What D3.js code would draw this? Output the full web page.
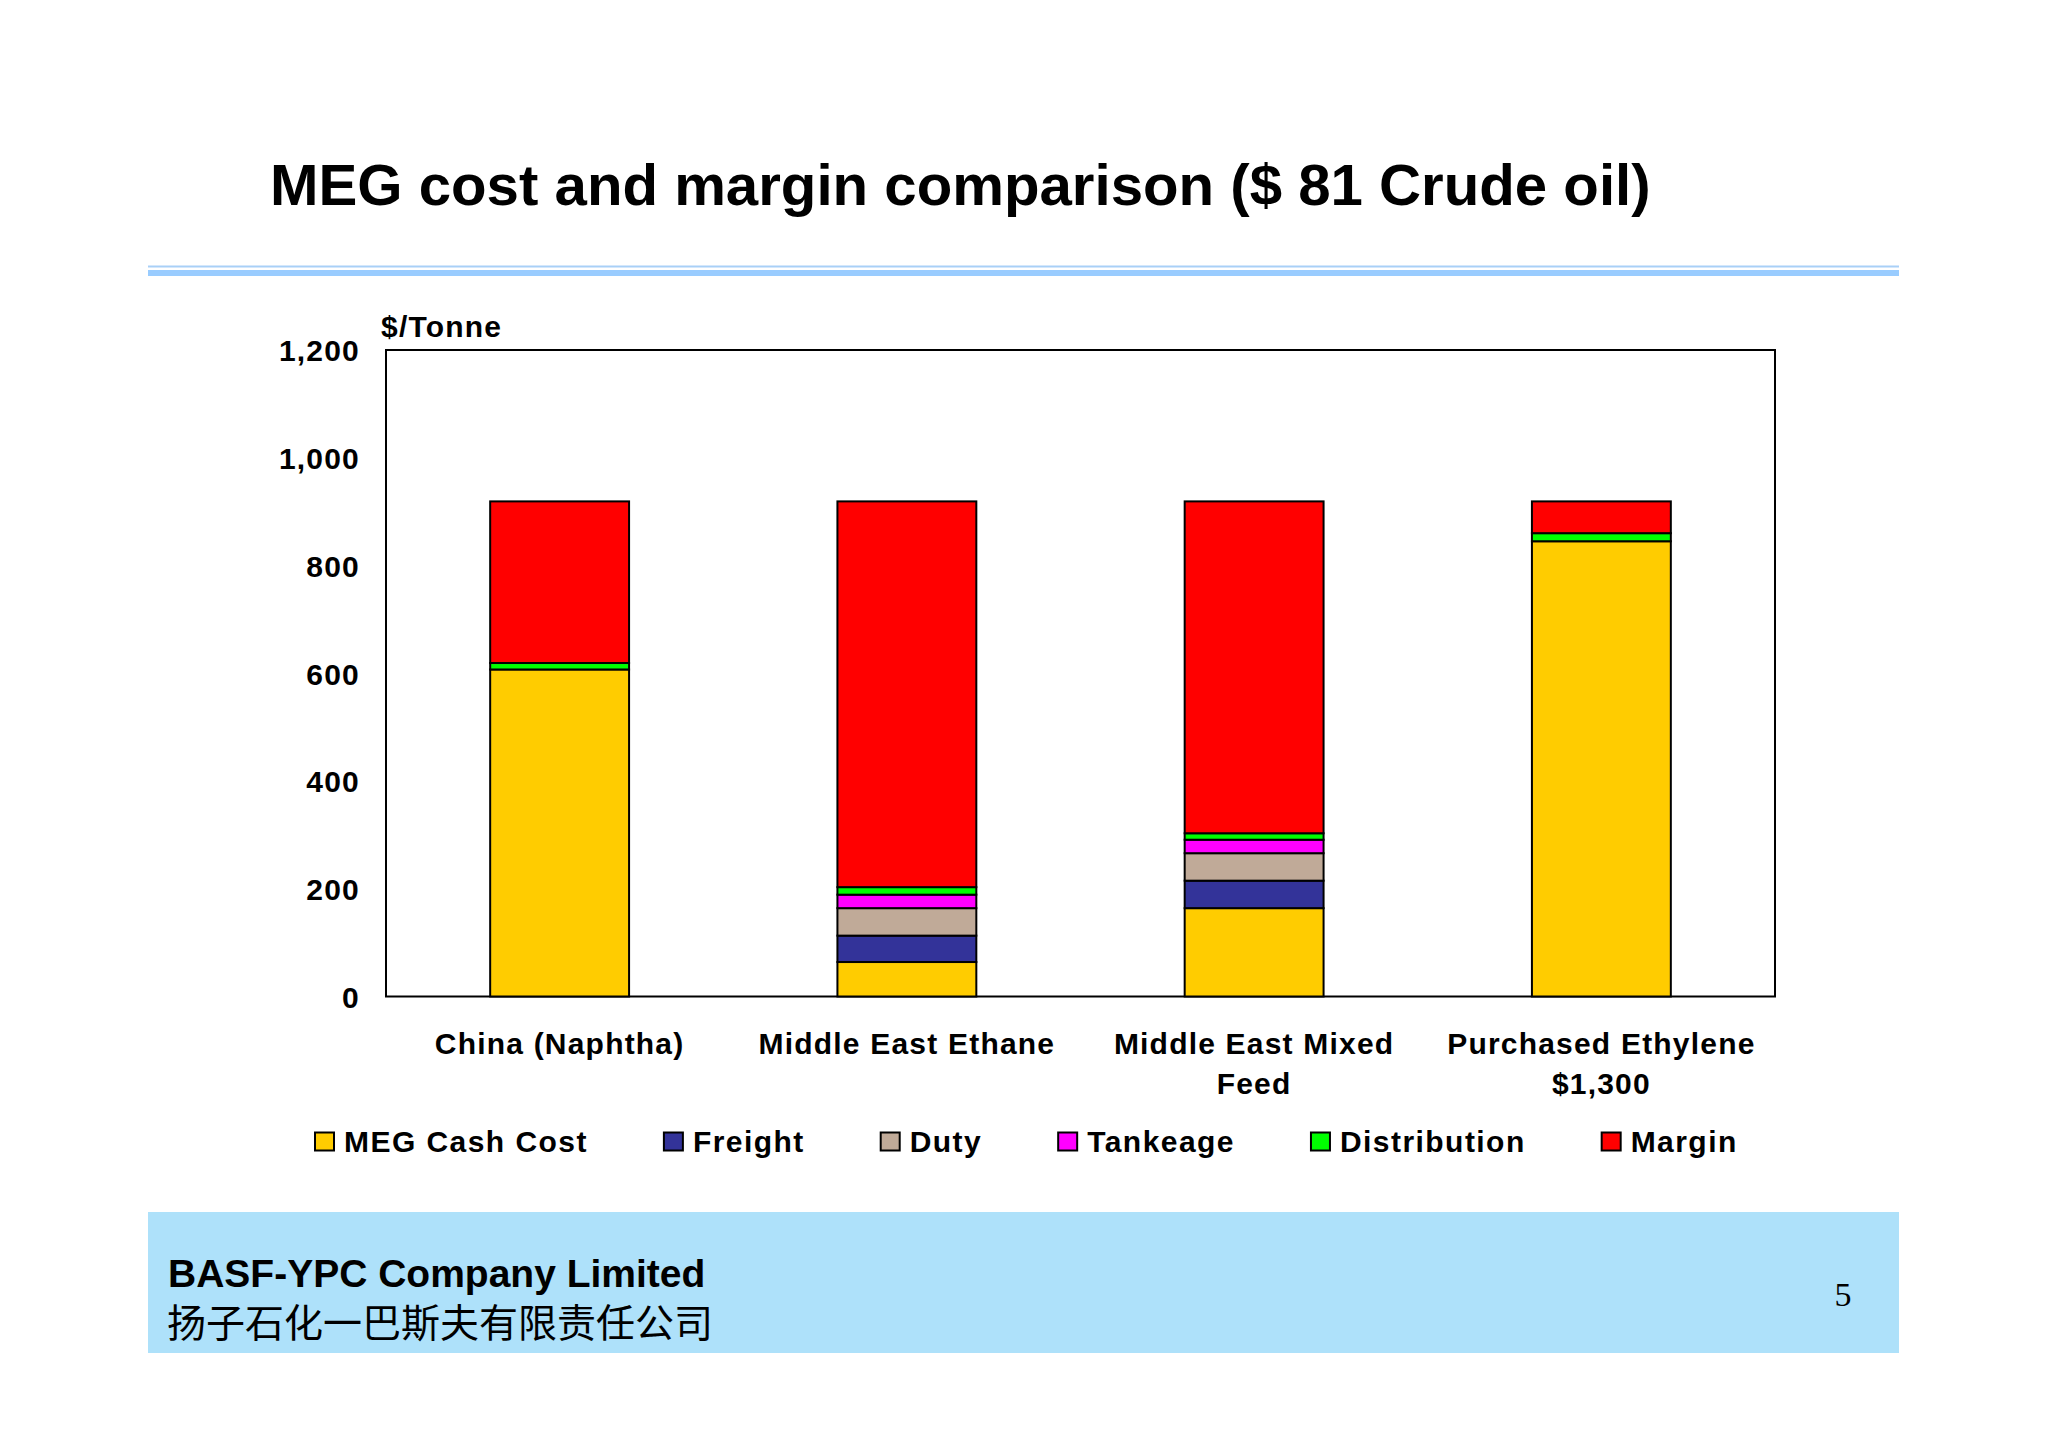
<!DOCTYPE html>
<html>
<head>
<meta charset="utf-8">
<script src="https://cdn.jsdelivr.net/npm/d3@7"></script>
<style>
    body { margin: 0; background: #fff; }
    svg { display: block; font-family: "Liberation Sans", Arial, sans-serif; }
    .tick text, .cat-label, .legend text, .unit { font-size: 30px; font-weight: bold; letter-spacing: 1.2px; fill: #000; }
    .legend text { letter-spacing: 1.45px; }
</style>
</head>
<body>
<svg id="chart"></svg>
<script>
const categories = [["China (Naphtha)"], ["Middle East Ethane"], ["Middle East Mixed", "Feed"], ["Purchased Ethylene", "$1,300"]];
const seriesNames = ["MEG Cash Cost", "Freight", "Duty", "Tankeage", "Distribution", "Margin"];
const seriesColors = ["#FFCC00", "#333399", "#C0AA98", "#FF00FF", "#00FF00", "#FF0000"];

// $/tonne
const megCashCost = [607, 64, 164, 845];
const freight = [0, 49, 51, 0];
const duty = [0, 51, 51, 0];
const tankeage = [0, 25, 25, 0];
const distribution = [12, 14, 12, 15];
const margin = [300, 716, 616, 59];
const yTicks = [0, 200, 400, 600, 800, 1000, 1200];

const seriesValues = [megCashCost, freight, duty, tankeage, distribution, margin];

const W = 2048, H = 1447;
const plot = {left: 386, top: 350, right: 1775, bottom: 996.5};

const svg = d3.select("#chart").attr("width", W).attr("height", H);

// title + blue rules
svg.append("text")
    .attr("x", 270).attr("y", 205)
    .style("font-size", "58.2px").style("font-weight", "bold")
    .text("MEG cost and margin comparison ($ 81 Crude oil)");
svg.append("rect").attr("x", 148).attr("y", 265.5).attr("width", 1751).attr("height", 2).attr("fill", "#a9d0f7");
svg.append("rect").attr("x", 148).attr("y", 270).attr("width", 1751).attr("height", 6).attr("fill", "#99ccff");

// footer band
svg.append("rect").attr("x", 148).attr("y", 1212).attr("width", 1751).attr("height", 141).attr("fill", "#aee1fa");
svg.append("text")
    .attr("x", 168).attr("y", 1287)
    .style("font-size", "39px").style("font-weight", "bold")
    .text("BASF-YPC Company Limited");
svg.append("text")
    .attr("x", 167).attr("y", 1337)
    .style("font-family", "'Noto Sans CJK SC', sans-serif")
    .style("font-size", "39px")
    .text("扬子石化一巴斯夫有限责任公司");
svg.append("text")
    .attr("x", 1843).attr("y", 1306)
    .attr("text-anchor", "middle")
    .style("font-family", "'Liberation Serif', 'Times New Roman', serif")
    .style("font-size", "34px")
    .text("5");

// scales
const rows = categories.map((c, i) => {
    const row = {cat: i};
    seriesNames.forEach((s, j) => row[s] = seriesValues[j][i]);
    return row;
});

const x = d3.scaleBand()
    .domain(d3.range(categories.length))
    .range([plot.left, plot.right])
    .paddingInner(0.6)
    .paddingOuter(0.3);
const y = d3.scaleLinear()
    .domain([0, 1200])
    .range([plot.bottom, plot.top]);
const color = d3.scaleOrdinal().domain(seriesNames).range(seriesColors);

const stacked = d3.stack().keys(seriesNames)(rows);

// plot frame
svg.append("rect")
    .attr("x", plot.left).attr("y", plot.top)
    .attr("width", plot.right - plot.left).attr("height", plot.bottom - plot.top)
    .attr("fill", "#fff").attr("stroke", "#000").attr("stroke-width", 2);

const bars = svg.append("g");
stacked.forEach(layer => {
    bars.selectAll(null)
        .data(layer.filter(d => d[1] - d[0] > 0))
        .join("rect")
        .attr("x", d => x(d.data.cat))
        .attr("width", x.bandwidth())
        .attr("y", d => y(d[1]))
        .attr("height", d => y(d[0]) - y(d[1]))
        .attr("fill", color(layer.key))
        .attr("stroke", "#000")
        .attr("stroke-width", 2);
});

// y axis labels only
const yAxis = svg.append("g")
    .attr("transform", `translate(${plot.left},0)`)
    .call(d3.axisLeft(y).tickValues(yTicks).tickFormat(d3.format(",")).tickSize(0).tickPadding(26));
yAxis.select(".domain").remove();
yAxis.selectAll(".tick text").attr("dy", "0.36em");

svg.append("text").attr("class", "unit")
    .attr("x", 381).attr("y", 337)
    .text("$/Tonne");

// category labels, possibly two lines
const catLabels = svg.append("g").selectAll("text")
    .data(categories)
    .join("text")
    .attr("class", "cat-label")
    .attr("text-anchor", "middle")
    .attr("x", (d, i) => x(i) + x.bandwidth() / 2)
    .attr("y", 1054);
catLabels.selectAll("tspan")
    .data(d => d)
    .join("tspan")
    .attr("x", function () { return this.parentNode.getAttribute("x"); })
    .attr("dy", (d, i) => i === 0 ? 0 : 40)
    .text(d => d);

// legend, flowed left to right
const legend = svg.append("g").attr("class", "legend");
let lx = 315;
seriesNames.forEach(name => {
    const item = legend.append("g").attr("transform", `translate(${lx},0)`);
    item.append("rect")
        .attr("x", 0).attr("y", 1132.5)
        .attr("width", 19).attr("height", 18)
        .attr("fill", color(name))
        .attr("stroke", "#000").attr("stroke-width", 2);
    const t = item.append("text")
        .attr("x", 29).attr("y", 1152)
        .text(name);
    lx += 29 + t.node().getComputedTextLength() + 76;
});
</script>
</body>
</html>
